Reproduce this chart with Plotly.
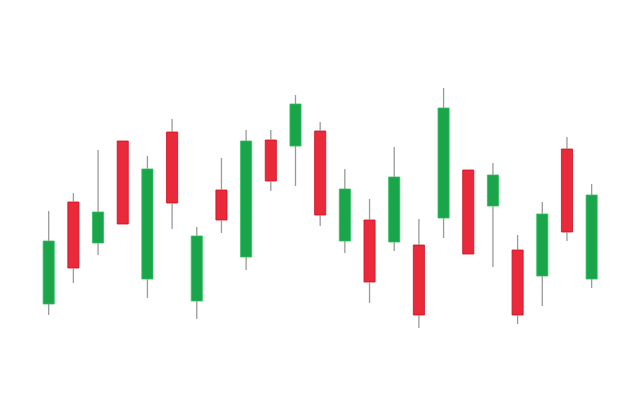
import plotly.graph_objects as go

# Candle data (price units, 23 sessions)
sessions = list(range(23))
open_ = [112, 214, 173, 275, 137, 284, 115, 226, 159, 276, 270, 285,
         175, 196, 174, 171, 198, 246, 210, 166, 140, 267, 137]
high = [205, 223, 266, 275, 260, 297, 189, 258, 286, 286, 321, 294,
        247, 217, 269, 197, 328, 246, 253, 181, 214, 279, 232]
low = [101, 133, 161, 192, 118, 187, 97, 183, 146, 225, 230, 190,
       163, 113, 165, 88, 178, 162, 149, 92, 110, 175, 128]
close = [175, 148, 204, 192, 247, 213, 180, 196, 275, 235, 312, 201,
         227, 134, 239, 101, 308, 162, 241, 101, 202, 184, 221]

UP = "#1ba54b"
DOWN = "#ea2a3b"

fig = go.Figure()

# Bodies
body_lo = [min(o, c) for o, c in zip(open_, close)]
body_hi = [max(o, c) for o, c in zip(open_, close)]
colors = [UP if c >= o else DOWN for o, c in zip(open_, close)]
edges = ["#2bc05c" if c >= o else "#c8101f" for o, c in zip(open_, close)]
fig.add_trace(go.Bar(
    x=sessions,
    base=body_lo,
    y=[h - l for h, l in zip(body_hi, body_lo)],
    width=0.45,
    marker=dict(color=colors, line=dict(color=edges, width=0.8)),
    showlegend=False,
))

# Wicks (gray, above and below the body only)
wx, wy = [], []
for x, h, l, bh, bl in zip(sessions, high, low, body_hi, body_lo):
    if h > bh:
        wx += [x, x, None]
        wy += [bh, h, None]
    if l < bl:
        wx += [x, x, None]
        wy += [l, bl, None]
fig.add_trace(go.Scatter(
    x=wx, y=wy, mode="lines",
    line=dict(color="#9a9a9a", width=1.3),
    hoverinfo="skip", showlegend=False,
))

fig.update_layout(
    width=626, height=416,
    margin=dict(l=0, r=0, t=0, b=0),
    paper_bgcolor="white", plot_bgcolor="white",
    barmode="overlay",
    xaxis=dict(visible=False, range=[-1.649, 23.716]),
    yaxis=dict(visible=False, range=[-8, 408]),
)

fig.write_html("out.html")
